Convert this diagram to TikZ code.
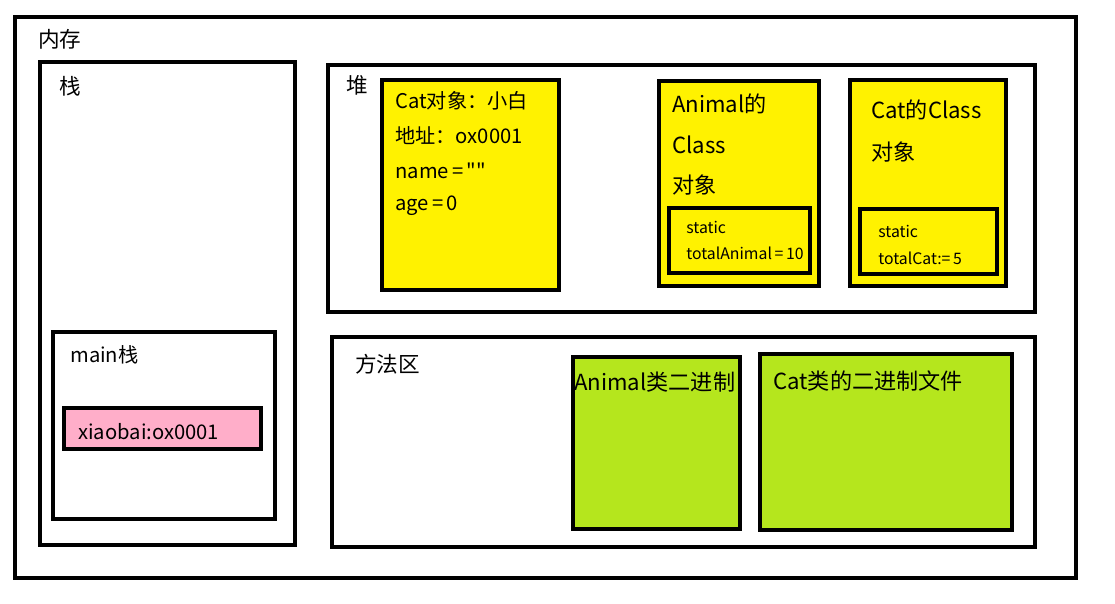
\documentclass[tikz,border=0pt]{standalone}
\usepackage{fontspec}
\setmainfont{Noto Sans CJK SC}[Ligatures=TeXOff]
\definecolor{objyellow}{HTML}{FFF200}
\definecolor{binlime}{HTML}{B5E61D}
\definecolor{refpink}{HTML}{FFAEC9}
\tikzset{
  area/.style={draw=black, line width=2.8pt},
  txt/.style={anchor=west, inner sep=0pt, font=\fontsize{11.5}{13}\selectfont},
  headtxt/.style={anchor=west, inner sep=0pt, font=\fontsize{12.3}{14}\selectfont},
  bigtxt/.style={anchor=west, inner sep=0pt, font=\fontsize{12.6}{15}\selectfont},
  smalltxt/.style={anchor=west, inner sep=0pt, font=\fontsize{9}{10}\selectfont}
}
\begin{document}
\begin{tikzpicture}[x=0.02cm, y=-0.02cm]
    \useasboundingbox (0,0) rectangle (1115,604);

    % memory
    \draw[area] (15,17) rectangle (1076,578);
    \node[headtxt] (memLabel) at (38,39) {内存};

    % stack
    \draw[area] (40,62) rectangle (295,545);
    \node[headtxt] (stackLabel) at (59,86) {栈};
    \draw[area] (53,332) rectangle (275,519);
    \node[txt] (mainLabel) at (70,355) {main栈};
    \draw[area, fill=refpink] (64,408) rectangle (261,449);
    \node[txt] (refLabel) at (78,432) {xiaobai:ox0001};

    % heap
    \draw[area] (328,65) rectangle (1035,312);
    \node[headtxt] (heapLabel) at (346,85) {堆};

    \draw[area, fill=objyellow] (382,80) rectangle (559,290);
    \node[txt] (catName) at (395,101) {Cat对象：小白};
    \node[txt] (catAddr) at (395,136) {地址：ox0001};
    \node[txt] (catField) at (395,171) {name\,=\,""};
    \node[txt] (catAge) at (395,206) {age\,=\,0};

    \draw[area, fill=objyellow] (659,81) rectangle (819,286);
    \node[bigtxt] (aniClassA) at (672,104) {Animal的};
    \node[bigtxt] (aniClassB) at (672,145) {Class};
    \node[bigtxt] (aniClassC) at (672,185) {对象};
    \draw[area] (669,208) rectangle (810,273);
    \node[smalltxt] (aniStatic) at (686,227) {static};
    \node[smalltxt] (aniTotal) at (686,253) {totalAnimal\,=\,10};

    \draw[area, fill=objyellow] (850,80) rectangle (1006,286);
    \node[bigtxt] (catClassA) at (871,110) {Cat的Class};
    \node[bigtxt] (catClassB) at (871,152) {对象};
    \draw[area] (860,209) rectangle (997,274);
    \node[smalltxt] (catStatic) at (878,231) {static};
    \node[smalltxt] (catTotal) at (878,258) {totalCat:=\,5};

    % method area
    \draw[area] (332,337) rectangle (1035,547);
    \node[headtxt] (methodLabel) at (355,364) {方法区};
    \draw[area, fill=binlime] (573,357) rectangle (740,529);
    \node[bigtxt] (aniBin) at (574,382) {Animal类二进制};
    \draw[area, fill=binlime] (760,354) rectangle (1012,530);
    \node[bigtxt] (catBin) at (773,381) {Cat类的二进制文件};
\end{tikzpicture}
\end{document}
